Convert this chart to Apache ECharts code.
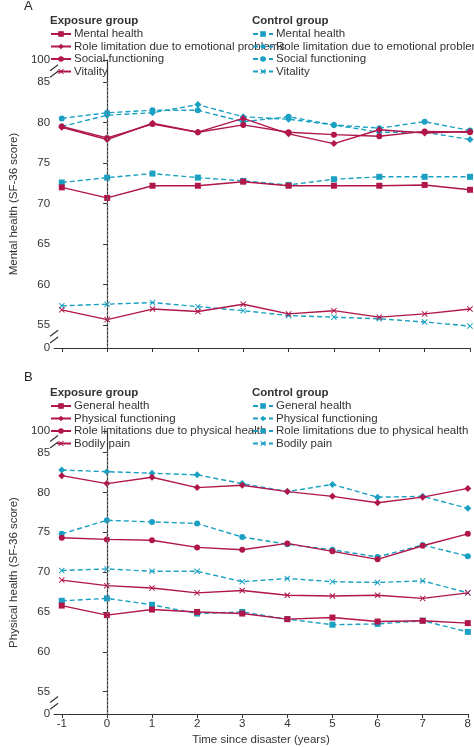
<!DOCTYPE html>
<html><head><meta charset="utf-8">
<script src="https://cdn.jsdelivr.net/npm/echarts@6/dist/echarts.min.js"></script>
<style>html,body{margin:0;padding:0;background:#fff}#c{width:474px;height:747px}</style>
</head><body><div id="c"></div>
<script>
const years = [-1,0,1,2,3,4,5,6,7,8];
const xTicks = ['-1','0','1','2','3','4','5','6','7','8'];
const yTickValues = [55,60,65,70,75,80,85];
// Panel A (mental health)
const aLabels = ['Mental health','Role limitation due to emotional problems','Social functioning','Vitality'];
const aExpMental = [72.0,70.7,72.2,72.2,72.7,72.2,72.2,72.2,72.3,71.7];
const aExpRole   = [79.4,77.9,79.9,78.8,80.5,78.6,77.4,79.1,78.7,78.9];
const aExpSocial = [79.5,78.1,79.8,78.8,79.7,78.8,78.5,78.3,78.9,78.8];
const aExpVital  = [56.9,55.7,57.0,56.7,57.6,56.4,56.8,56.0,56.4,57.0];
const aCtlMental = [72.6,73.2,73.7,73.2,72.8,72.3,73.0,73.3,73.3,73.3];
const aCtlRole   = [79.5,80.9,81.2,82.2,80.7,80.4,79.7,78.8,78.8,77.9];
const aCtlSocial = [80.5,81.2,81.5,81.5,80.1,80.7,79.7,79.3,80.1,79.0];
const aCtlVital  = [57.4,57.6,57.8,57.3,56.8,56.2,56.0,55.8,55.4,54.9];
// Panel B (physical health)
const bLabels = ['General health','Physical functioning','Role limitations due to physical health','Bodily pain'];
const bExpGen  = [65.8,64.6,65.3,65.0,64.8,64.1,64.3,63.8,63.9,63.6];
const bExpPhys = [82.1,81.1,81.9,80.6,80.9,80.1,79.5,78.7,79.4,80.5];
const bExpRole = [74.3,74.1,74.0,73.1,72.8,73.6,72.6,71.6,73.3,74.8];
const bExpPain = [69.0,68.3,68.0,67.4,67.7,67.1,67.0,67.1,66.7,67.4];
const bCtlGen  = [66.4,66.7,65.9,64.8,65.0,64.1,63.4,63.5,63.9,62.5];
const bCtlPhys = [82.8,82.6,82.4,82.2,81.1,80.1,81.0,79.4,79.5,78.0];
const bCtlRole = [74.8,76.5,76.3,76.1,74.4,73.5,72.8,71.9,73.4,72.0];
const bCtlPain = [70.2,70.4,70.1,70.1,68.8,69.2,68.8,68.7,68.9,67.4];

const RED='#b0164a', TEAL='#1aa0c2';
const YMIN=52.2, YMAX=87.7;
const symbols=['rect','diamond','circle'];
const sizes=[6,7,6];
const F='"Liberation Sans Narrow", "Liberation Sans", Arial, sans-serif';
const XSYM='path://M0,0L2,2L4,0L4.6,0.6L2.6,2.6L4.6,4.6L4,5.2L2,3.2L0,5.2L-0.6,4.6L1.4,2.6L-0.6,0.6Z';

function mk(name, data, gi, k, ctl){
  const isX = k===3;
  return {type:'line', name, xAxisIndex:gi, yAxisIndex:gi,
    data: years.map((y,i)=>[y,data[i]]),
    symbol: isX ? XSYM : symbols[k],
    symbolSize: isX?6:sizes[k], color: ctl?TEAL:RED,
    itemStyle:{color: ctl?TEAL:RED},
    lineStyle:{color: ctl?TEAL:RED, width:1.4, type: ctl?[5,3]:'solid'},
    z: ctl?2:3, animation:false};
}
const series=[];
[aExpMental,aExpRole,aExpSocial,aExpVital].forEach((d,k)=>series.push(mk(aLabels[k],d,0,k,false)));
[aCtlMental,aCtlRole,aCtlSocial,aCtlVital].forEach((d,k)=>series.push(mk(aLabels[k]+'\u200b',d,0,k,true)));
[bExpGen,bExpPhys,bExpRole,bExpPain].forEach((d,k)=>series.push(mk(bLabels[k],d,1,k,false)));
[bCtlGen,bCtlPhys,bCtlRole,bCtlPain].forEach((d,k)=>series.push(mk(bLabels[k]+'\u200b',d,1,k,true)));
const vline={silent:true,symbol:'none',label:{show:false},lineStyle:{color:'#777',type:[2,2],width:1},
  data:[[{coord:[0,YMIN]},{coord:[0,85]}]]};
series[0].markLine=vline;
series[8].markLine=JSON.parse(JSON.stringify(vline));

const yVals=[YMIN].concat(yTickValues,[YMAX]);
function yAx(gi,name){return {type:'value',gridIndex:gi,min:YMIN,max:YMAX,name,nameLocation:'middle',nameGap:29,
  nameTextStyle:{fontFamily:F,fontSize:11.5,color:'#333'},
  axisLine:{show:true,lineStyle:{color:'#333',width:1.2}},
  axisTick:{show:true,length:4,customValues:yVals,lineStyle:{color:'#333'}},
  axisLabel:{customValues:yVals,fontFamily:F,fontSize:11.5,color:'#333',margin:4,
    formatter:v=>Math.abs(v-YMIN)<0.01?'0':Math.abs(v-YMAX)<0.01?'100':String(Math.round(v))},
  splitLine:{show:false}};}
function xAx(gi,show){return {type:'value',gridIndex:gi,min:-1.17,max:8,
  name: show?'Time since disaster (years)':'',nameLocation:'middle',nameGap:20,
  nameTextStyle:{fontFamily:F,fontSize:11.5,color:'#333'},
  axisLine:{show:true,onZero:false,lineStyle:{color:'#333',width:1.2}},
  axisTick:{show:true,length:4,customValues:years,lineStyle:{color:'#333'}},
  axisLabel:{show:show,customValues:years,fontFamily:F,fontSize:11.5,color:'#333',margin:4,
    formatter:v=>xTicks[years.indexOf(Math.round(v))]},
  splitLine:{show:false}};}

function leg(names,left,top){return {orient:'vertical',left,top,itemGap:0.5,itemWidth:20,itemHeight:7,padding:[0,0,0,0],
  data:names,textStyle:{fontFamily:F,fontSize:11.5,color:'#333',padding:[0,0,0,-2]},selectedMode:false};}

const chart=echarts.init(document.getElementById('c'));
chart.setOption({
  animation:false,
  grid:[{left:39,right:4,top:60,height:288},{left:39,right:4,top:431,height:283}],
  xAxis:[xAx(0,false),xAx(1,true)],
  yAxis:[yAx(0,'Mental health (SF-36 score)'),yAx(1,'Physical health (SF-36 score)')],
  legend:[leg(aLabels,50,28),leg(aLabels.map(s=>s+'\u200b'),252,28),
          leg(bLabels,50,400),leg(bLabels.map(s=>s+'\u200b'),252,400)],
  series
});
const g=[
 {type:'text',left:24,top:0,style:{text:'A',font:'13px '+F,fill:'#222'}},
 {type:'text',left:24,top:371,style:{text:'B',font:'13px '+F,fill:'#222'}},
 {type:'text',left:50,top:15,style:{text:'Exposure group',font:'bold 11.5px '+F,fill:'#333'}},
 {type:'text',left:252,top:15,style:{text:'Control group',font:'bold 11.5px '+F,fill:'#333'}},
 {type:'text',left:50,top:387,style:{text:'Exposure group',font:'bold 11.5px '+F,fill:'#333'}},
 {type:'text',left:252,top:387,style:{text:'Control group',font:'bold 11.5px '+F,fill:'#333'}}
];
[0,1].forEach(gi=>{
  const x=chart.convertToPixel({xAxisIndex:gi},-1.17);
  [[85,YMAX],[YMIN,55]].forEach(([lo,hi])=>{
    const y1=chart.convertToPixel({yAxisIndex:gi},hi), y2=chart.convertToPixel({yAxisIndex:gi},lo);
    const m1=y1+(y2-y1)*0.35, m2=y1+(y2-y1)*0.65;
    g.push({type:'rect',shape:{x:x-3,y:m1,width:6,height:m2-m1},style:{fill:'#fff'},z:50});
    g.push({type:'line',shape:{x1:x-4,y1:m1+3,x2:x+4,y2:m1-3},style:{stroke:'#333',lineWidth:1.2},z:51});
    g.push({type:'line',shape:{x1:x-4,y1:m2+3,x2:x+4,y2:m2-3},style:{stroke:'#333',lineWidth:1.2},z:51});
  });
});
chart.setOption({graphic:g});
</script></body></html>
